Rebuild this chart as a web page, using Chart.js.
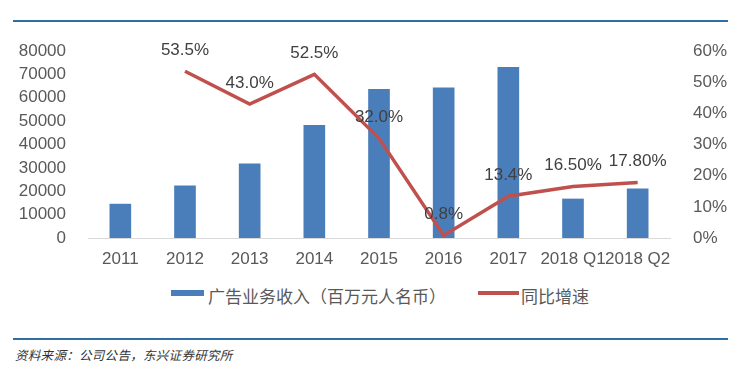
<!DOCTYPE html>
<html>
<head>
<meta charset="utf-8">
<script src="https://cdn.jsdelivr.net/npm/chart.js@4.4.1/dist/chart.umd.min.js"></script>
<style>
  html, body { margin: 0; padding: 0; background: #fff; }
  #wrap { position: relative; width: 737px; height: 370px; overflow: hidden; }
  #box { position: absolute; left: 0; top: 0; width: 737px; height: 268px; }
  .rule { position: absolute; left: 13px; width: 715px; height: 2px; background: #2f6ea5; }
  #src { position: absolute; left: 15px; top: 345px; font: italic 12.5px "Noto Sans CJK SC", sans-serif; color: #333; letter-spacing: 0.3px; }
  .leg { position: absolute; top: 283px; height: 20px; line-height: 20px; font: 17px "Noto Sans CJK SC", sans-serif; color: #595959; white-space: nowrap; }
  .leg i { position: absolute; left: 0; display: block; }
  .leg span { position: absolute; top: 0; }
</style>
</head>
<body>
<div id="wrap">
  <div class="rule" style="top:20px"></div>
  <div id="box"><canvas id="c"></canvas></div>
  <div id="legend"></div>
  <div class="rule" style="top:338px"></div>
  <div id="src">资料来源：公司公告，东兴证券研究所</div>
</div>
<script>
const categories = ['2011', '2012', '2013', '2014', '2015', '2016', '2017', '2018 Q1', '2018 Q2'];
const revenue = [14500, 22300, 31700, 48200, 63600, 64200, 73000, 16700, 21000];
const growth = [null, 53.5, 43.0, 52.5, 32.0, 0.8, 13.4, 16.5, 17.8];
const growthLabels = ['', '53.5%', '43.0%', '52.5%', '32.0%', '0.8%', '13.4%', '16.50%', '17.80%'];
const seriesNames = ['广告业务收入（百万元人名币）', '同比增速'];

const barColor = '#4a7ebb';
const lineColor = '#c0504d';
const tickFont = { family: 'Liberation Sans, Arial, sans-serif', size: 17 };

// draws the percentage labels above the red line
const lineLabels = {
  id: 'lineLabels',
  afterDatasetsDraw(chart) {
    const ctx = chart.ctx;
    const meta = chart.getDatasetMeta(1);
    ctx.save();
    ctx.font = '17px Liberation Sans, Arial, sans-serif';
    ctx.fillStyle = '#404040';
    ctx.textAlign = 'center';
    ctx.textBaseline = 'middle';
    meta.data.forEach((pt, i) => {
      if (growth[i] == null) return;
      ctx.fillText(growthLabels[i], pt.x, pt.y - 21);
    });
    ctx.restore();
  }
};

// simple html legend, laid out like the excel one
const legend = document.getElementById('legend');
legend.innerHTML =
  '<div class="leg" style="left:171px"><i style="top:7px;width:33px;height:6px;background:' + barColor + '"></i>' +
  '<span style="left:37px">' + seriesNames[0] + '</span></div>' +
  '<div class="leg" style="left:478px"><i style="top:8px;width:41px;height:4px;background:' + lineColor + '"></i>' +
  '<span style="left:43px">' + seriesNames[1] + '</span></div>';

new Chart(document.getElementById('c'), {
  data: {
    labels: categories,
    datasets: [
      {
        type: 'bar',
        label: seriesNames[0],
        data: revenue,
        backgroundColor: barColor,
        barThickness: 21,
        yAxisID: 'y',
        order: 2
      },
      {
        type: 'line',
        label: seriesNames[1],
        data: growth,
        borderColor: lineColor,
        backgroundColor: lineColor,
        borderWidth: 3.5,
        pointRadius: 0,
        tension: 0,
        yAxisID: 'y1',
        order: 1
      }
    ]
  },
  options: {
    responsive: true,
    maintainAspectRatio: false,
    animation: false,
    layout: { padding: { top: 51, left: 0, right: 0, bottom: 0 } },
    plugins: {
      tooltip: { enabled: false },
      legend: { display: false }
    },
    scales: {
      x: {
        offset: true,
        afterFit: (s) => { s.height = 30; },
        grid: { display: false },
        border: { display: true, color: '#d9d9d9', width: 1 },
        ticks: { font: tickFont, color: '#595959', padding: 3, maxRotation: 0, autoSkip: false }
      },
      y: {
        position: 'left',
        min: 0, max: 80000,
        afterFit: (s) => { s.width = 88; },
        grid: { display: false },
        border: { display: false },
        ticks: { stepSize: 10000, autoSkip: false, font: tickFont, color: '#595959', padding: 14, callback: (v) => String(v) }
      },
      y1: {
        position: 'right',
        min: 0, max: 60,
        afterFit: (s) => { s.width = 67; },
        grid: { display: false },
        border: { display: false },
        ticks: { stepSize: 10, autoSkip: false, font: tickFont, color: '#595959', padding: 15, callback: (v) => v + '%' }
      }
    }
  },
  plugins: [lineLabels]
});
</script>
</body>
</html>
